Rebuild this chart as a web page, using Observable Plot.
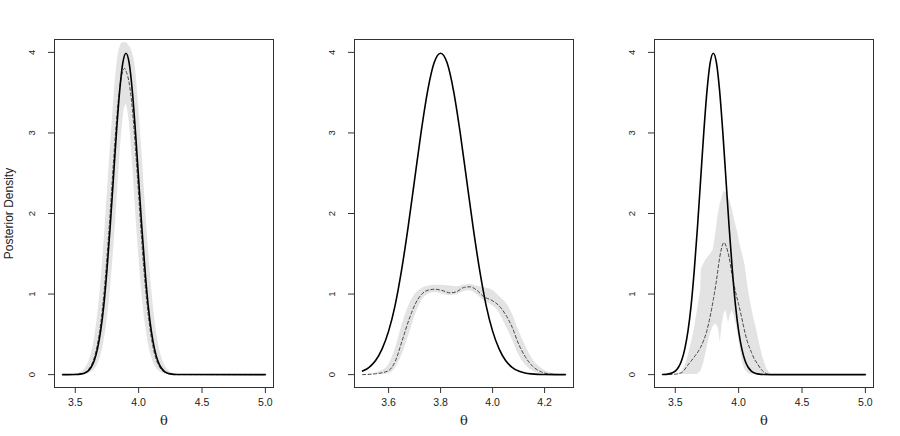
<!DOCTYPE html>
<html><head><meta charset="utf-8">
<script src="https://cdn.jsdelivr.net/npm/d3@7"></script>
<script src="https://cdn.jsdelivr.net/npm/@observablehq/plot@0.6"></script>
<style>
body{margin:0;background:#fff;}
#wrap{display:flex;width:900px;height:436px;overflow:hidden;}
#wrap svg{flex:none;}
</style></head><body><div id="wrap"></div>
<script>
// ---------- Panel 1 ----------
const p1SolidX = [3.40,3.50,3.55,3.575,3.60,3.625,3.65,3.675,3.70,3.725,3.75,3.775,3.80,3.825,3.85,3.875,3.90,3.925,3.95,3.975,4.00,4.025,4.05,4.075,4.10,4.125,4.15,4.175,4.20,4.225,4.25,4.30,5.00];
const p1SolidY = [0,0.001,0.009,0.02,0.044,0.091,0.175,0.32,0.54,0.86,1.30,1.83,2.42,3.01,3.52,3.87,3.99,3.87,3.52,3.01,2.42,1.83,1.30,0.86,0.54,0.32,0.175,0.091,0.044,0.02,0.009,0.001,0];
const p1DashX = [3.40,3.50,3.55,3.575,3.60,3.625,3.65,3.675,3.70,3.725,3.75,3.775,3.80,3.825,3.85,3.875,3.89,3.90,3.925,3.95,3.975,4.00,4.025,4.05,4.075,4.10,4.125,4.15,4.175,4.20,4.25,4.30,5.00];
const p1DashY = [0,0.003,0.011,0.026,0.056,0.113,0.214,0.38,0.63,0.99,1.46,2.01,2.61,3.15,3.55,3.77,3.80,3.77,3.62,3.30,2.80,2.23,1.64,1.14,0.75,0.46,0.26,0.14,0.07,0.035,0.007,0,0];
const p1BandX = [3.50,3.525,3.55,3.575,3.60,3.625,3.65,3.675,3.70,3.725,3.75,3.775,3.80,3.825,3.85,3.875,3.90,3.925,3.95,3.975,4.00,4.025,4.05,4.075,4.10,4.125,4.15,4.175,4.20,4.225,4.25,4.275,4.30,4.35];
const p1BandHi = [0.006,0.015,0.033,0.069,0.136,0.25,0.44,0.72,1.11,1.60,2.18,2.78,3.33,3.80,4.05,4.12,4.12,4.08,4.0,3.80,3.33,2.78,2.18,1.60,1.11,0.72,0.44,0.25,0.136,0.069,0.033,0.015,0.006,0];
const p1BandLo = [0,0,0.001,0.004,0.012,0.028,0.06,0.12,0.224,0.40,0.656,1.02,1.50,2.06,2.66,3.15,3.35,3.15,2.66,2.06,1.50,1.02,0.656,0.40,0.224,0.12,0.06,0.028,0.012,0.004,0.001,0,0,0];

// ---------- Panel 2 ----------
const p2SolidX = [3.50,3.525,3.55,3.575,3.60,3.625,3.65,3.675,3.70,3.725,3.75,3.775,3.80,3.825,3.85,3.875,3.90,3.925,3.95,3.975,4.00,4.025,4.05,4.075,4.10,4.125,4.15,4.175,4.20,4.28];
const p2SolidY = [0.044,0.091,0.175,0.32,0.54,0.86,1.30,1.83,2.42,3.01,3.52,3.87,3.99,3.87,3.52,3.01,2.42,1.83,1.30,0.86,0.54,0.32,0.175,0.091,0.044,0.02,0.009,0.0035,0.001,0];
const p2DashX = [3.50,3.55,3.60,3.626,3.652,3.677,3.703,3.728,3.754,3.779,3.805,3.837,3.862,3.888,3.914,3.94,3.965,3.998,4.023,4.049,4.075,4.10,4.126,4.152,4.183,4.215,4.26];
const p2DashY = [0,0.01,0.05,0.17,0.42,0.67,0.88,1.0,1.05,1.06,1.045,1.015,1.03,1.08,1.09,1.045,0.97,0.92,0.86,0.75,0.59,0.38,0.22,0.11,0.04,0.01,0];
const p2BandX = [3.50,3.55,3.575,3.60,3.626,3.652,3.677,3.703,3.728,3.754,3.779,3.805,3.837,3.862,3.888,3.914,3.94,3.965,3.998,4.023,4.049,4.075,4.10,4.126,4.152,4.183,4.215,4.24,4.26];
const p2BandLo = [0,0,0,0.01,0.08,0.25,0.48,0.74,0.92,1.0,1.02,1.0,0.98,0.99,1.03,1.04,0.99,0.92,0.86,0.78,0.62,0.44,0.25,0.12,0.05,0.01,0,0,0];
const p2BandHi = [0,0.02,0.05,0.12,0.32,0.62,0.85,1.0,1.07,1.1,1.11,1.11,1.1,1.09,1.11,1.12,1.1,1.08,1.05,0.98,0.9,0.76,0.55,0.36,0.2,0.09,0.03,0.01,0];

// ---------- Panel 3 ----------
const p3SolidX = [3.40,3.45,3.50,3.525,3.55,3.575,3.60,3.625,3.65,3.675,3.70,3.725,3.75,3.775,3.80,3.825,3.85,3.875,3.90,3.925,3.95,3.975,4.00,4.025,4.05,4.075,4.10,4.125,4.15,4.20,4.30,5.00];
const p3SolidY = [0.0005,0.009,0.044,0.091,0.175,0.32,0.54,0.86,1.30,1.83,2.42,3.01,3.52,3.87,3.99,3.87,3.52,3.01,2.42,1.83,1.30,0.86,0.54,0.32,0.175,0.091,0.044,0.02,0.009,0.001,0,0];
const p3DashX = [3.45,3.50,3.55,3.60,3.65,3.70,3.75,3.775,3.80,3.825,3.85,3.875,3.885,3.90,3.925,3.95,3.975,4.00,4.025,4.05,4.075,4.10,4.125,4.15,4.175,4.20,4.225,4.25];
const p3DashY = [0,0.005,0.025,0.12,0.22,0.34,0.55,0.72,0.93,1.17,1.45,1.62,1.64,1.6,1.45,1.22,1.03,0.87,0.70,0.52,0.38,0.28,0.19,0.13,0.07,0.03,0.008,0];
const p3BandX = [3.50,3.55,3.575,3.60,3.625,3.65,3.675,3.70,3.705,3.72,3.74,3.76,3.78,3.80,3.82,3.84,3.855,3.87,3.885,3.90,3.92,3.935,3.95,3.97,3.99,4.01,4.03,4.05,4.08,4.10,4.12,4.14,4.16,4.19,4.22,4.245,4.26];
const p3BandHi = [0,0.03,0.1,0.22,0.38,0.56,0.8,1.04,1.3,1.36,1.42,1.46,1.5,1.55,1.76,2.0,2.12,2.2,2.28,2.26,2.2,2.14,2.05,1.9,1.78,1.62,1.5,1.36,1.02,0.85,0.7,0.57,0.42,0.22,0.08,0.02,0];
const p3BandLo = [0,0,0,0,0,0,0,0.04,0.05,0.12,0.25,0.4,0.52,0.6,0.63,0.58,0.4,0.62,0.76,0.8,0.64,0.74,0.8,0.7,0.55,0.35,0.15,0.06,0.01,0,0,0,0,0,0,0,0];

// ---------- Axes ----------
const wideTicks = [3.5, 4.0, 4.5, 5.0];
const narrowTicks = [3.6, 3.8, 4.0, 4.2];
const yTicks = [0, 1, 2, 3, 4];
const xLabel = "θ";
const yLabel = "Posterior Density";

const pts = (xs, ys) => xs.map((x, i) => ({x, y: ys[i]}));
const bandPts = (xs, lo, hi) => xs.map((x, i) => ({x, lo: lo[i], hi: hi[i]}));

function panel({xDomain, xTicks, solid, dashed, band, bandCurve, showYLabel}) {
  return Plot.plot({
    width: 300, height: 436,
    marginLeft: 54, marginRight: 27, marginTop: 39, marginBottom: 49,
    x: {domain: xDomain},
    y: {domain: [-0.16, 4.16]},
    style: {fontFamily: "'Liberation Sans', Arial, sans-serif", background: "white", color: "#222"},
    marks: [
      Plot.areaY(band, {x: "x", y1: "lo", y2: "hi", fill: "#e3e3e3", curve: bandCurve}),
      Plot.line(dashed, {x: "x", y: "y", stroke: "#444", strokeWidth: 1, strokeDasharray: "3,2.5", curve: "monotone-x"}),
      Plot.line(solid, {x: "x", y: "y", stroke: "#000", strokeWidth: 1.6, curve: "monotone-x"}),
      Plot.frame({stroke: "#333", strokeWidth: 1}),
      Plot.axisX({ticks: xTicks, tickSize: 6, tickPadding: 5, tickFormat: d3.format(".1f"), fontSize: 10.5, label: null, stroke: "#333"}),
      Plot.axisX({ticks: [], tickSize: 0, label: xLabel, labelAnchor: "center", labelArrow: "none", labelOffset: 37, fontSize: 13, fontFamily: "'DejaVu Serif', serif"}),
      Plot.axisY({ticks: yTicks, tickSize: 6, tickRotate: -90, tickPadding: 14, tickFormat: d3.format("d"), fontSize: 9.5, label: null, stroke: "#333"}),
      showYLabel ? Plot.axisY({ticks: [], tickSize: 0, label: yLabel, labelAnchor: "center", labelArrow: "none", labelOffset: 50, fontSize: 12}) : null
    ]
  });
}

const wrap = document.getElementById("wrap");
wrap.append(panel({
  xDomain: [3.336, 5.064], xTicks: wideTicks,
  solid: pts(p1SolidX, p1SolidY), dashed: pts(p1DashX, p1DashY),
  band: bandPts(p1BandX, p1BandLo, p1BandHi), bandCurve: "monotone-x", showYLabel: true
}));
wrap.append(panel({
  xDomain: [3.4688, 4.3112], xTicks: narrowTicks,
  solid: pts(p2SolidX, p2SolidY), dashed: pts(p2DashX, p2DashY),
  band: bandPts(p2BandX, p2BandLo, p2BandHi), bandCurve: "monotone-x", showYLabel: false
}));
wrap.append(panel({
  xDomain: [3.336, 5.064], xTicks: wideTicks,
  solid: pts(p3SolidX, p3SolidY), dashed: pts(p3DashX, p3DashY),
  band: bandPts(p3BandX, p3BandLo, p3BandHi), bandCurve: "linear", showYLabel: false
}));
</script>
</body></html>
